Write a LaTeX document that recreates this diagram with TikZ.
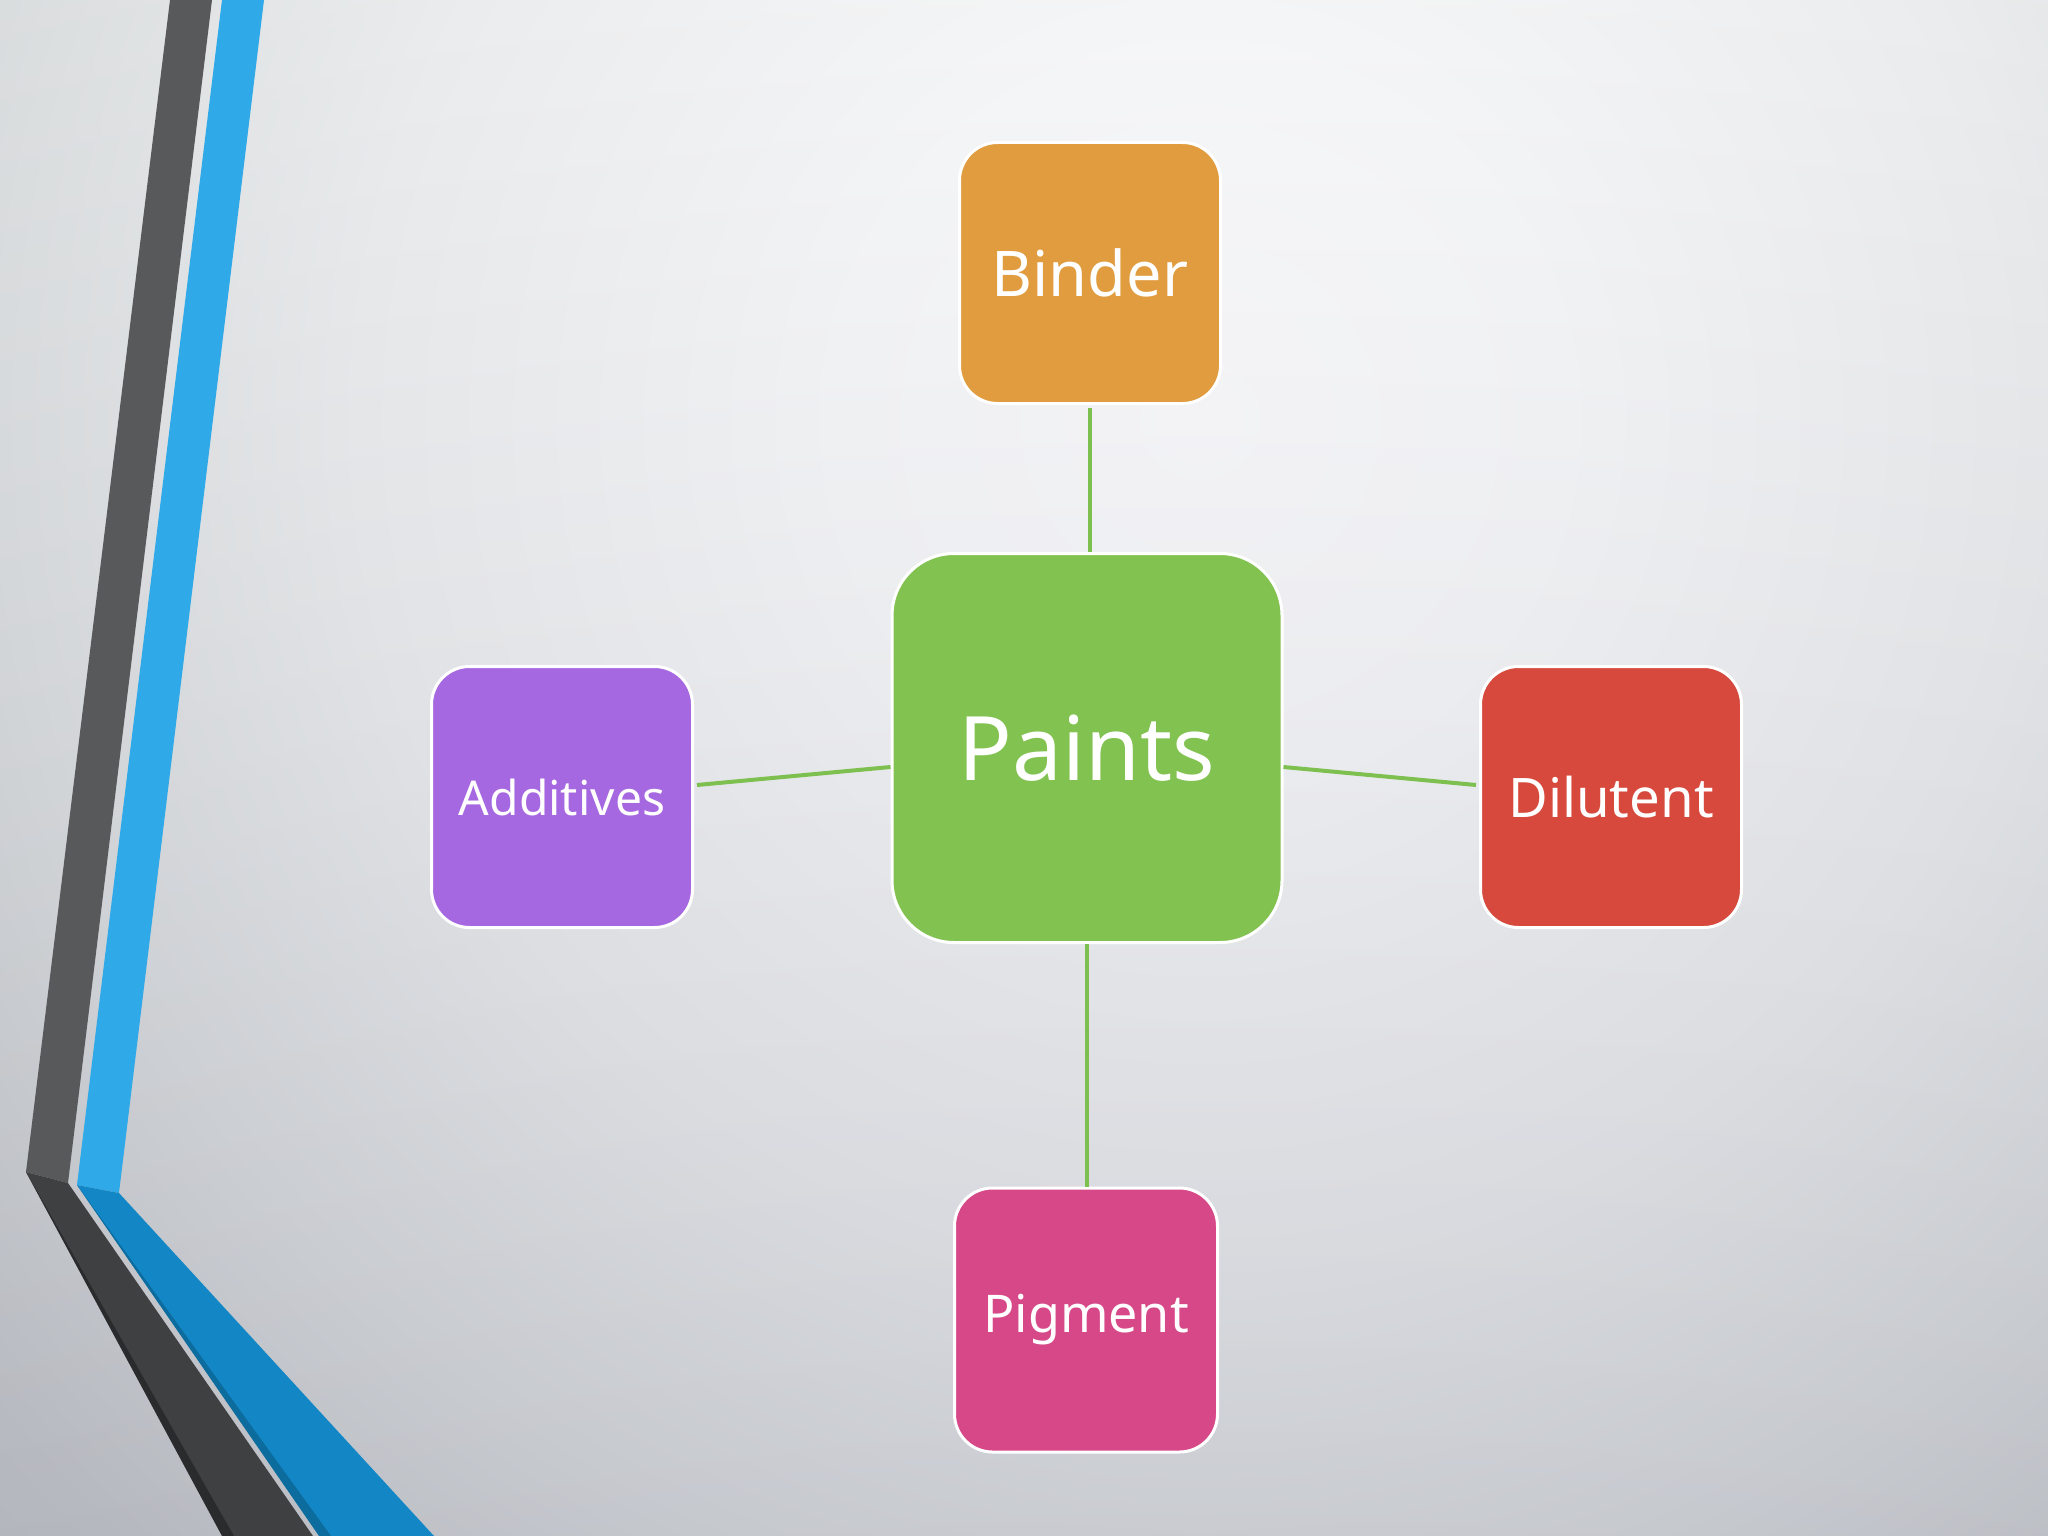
\documentclass[tikz,border=0pt]{standalone}
\usepackage{fontspec}
\setmainfont{Noto Sans}
\usetikzlibrary{calc}
\definecolor{bg0}{HTML}{F9F9FB}
\definecolor{bg1}{HTML}{F5F6F7}
\definecolor{bg2}{HTML}{E9EBEC}
\definecolor{bg3}{HTML}{DADDDE}
\definecolor{bg4}{HTML}{C8CBCD}
\definecolor{bg5}{HTML}{B8BBBD}
\pgfdeclareradialshading{bgshade}{\pgfpoint{0bp}{0bp}}{color(0bp)=(bg0); color(6bp)=(bg1); color(14bp)=(bg2); color(20bp)=(bg3); color(26bp)=(bg4); color(36bp)=(bg5); color(50bp)=(bg5)}
\definecolor{stripegray}{HTML}{58595B}
\definecolor{stripedark}{HTML}{3F4042}
\definecolor{stripeblack}{HTML}{2A2B2D}
\definecolor{stripeblue}{HTML}{2FA9E8}
\definecolor{stripeblue2}{HTML}{1387C6}
\definecolor{stripeblue3}{HTML}{0D6C9E}
\definecolor{cbinder}{HTML}{E09C3E}
\definecolor{cpaints}{HTML}{82C250}
\definecolor{cadd}{HTML}{A668E0}
\definecolor{cdil}{HTML}{D6493C}
\definecolor{cpig}{HTML}{D64887}
\definecolor{clink}{HTML}{7DC04F}
\tikzset{
  box/.style={draw=white, line width=3pt, rounded corners=38pt, minimum width=261pt, minimum height=261pt, text=white, inner sep=0pt},
  link/.style={draw=clink, line width=4pt}
}
\begin{document}
\begin{tikzpicture}[x=1pt,y=-1pt]
\useasboundingbox (0,0) rectangle (2048,1536);
% background
\begin{scope}
\clip (0,0) rectangle (2048,1536);
\shade[shading=bgshade] (-300,-1080) rectangle (2700,1920);
\shade[top color=white, bottom color=black!80!blue, opacity=0.09] (0,0) rectangle (2048,1536);
\end{scope}
% decorative stripes
\fill[stripegray] (170,0) -- (212,0) -- (68,1183) -- (26,1172) -- cycle;
\fill[stripeblue] (222,0) -- (264,0) -- (119,1193) -- (77,1185) -- cycle;
\fill[stripedark] (26,1172) -- (68,1183) -- (313,1536) -- (225,1536) -- cycle;
\fill[stripeblack] (26,1172) -- (234,1536) -- (222,1536) -- cycle;
\fill[stripeblue2] (77,1185) -- (119,1193) -- (434,1536) -- (320,1536) -- cycle;
\fill[stripeblue3] (77,1185) -- (331,1536) -- (319,1536) -- cycle;
% nodes
\node[box, fill=cpaints, minimum width=390pt, minimum height=389pt, rounded corners=62pt] (paints) at (1087,748) {\fontsize{89}{96}\selectfont Paints};
\node[box, fill=cbinder] (binder) at (1090,273) {\fontsize{63}{68}\selectfont Binder};
\node[box, fill=cadd] (add) at (562,797) {\fontsize{48}{52}\selectfont Additives};
\node[box, fill=cdil] (dil) at (1611,797) {\fontsize{54.5}{58}\selectfont Dilutent};
\node[box, fill=cpig, minimum width=263pt, minimum height=264pt] (pig) at (1086,1320) {\fontsize{52}{56}\selectfont Pigment};
% connectors
\draw[link] ($(binder.south)+(0,3)$) -- (binder.south |- paints.north);
\draw[link] (paints.south) -- (paints.south |- pig.north);
\draw[link] ($(add.east)+(3,-12)$) -- ($(paints.west)+(0,19)$);
\draw[link] ($(paints.east)+(0,19)$) -- ($(dil.west)+(-3,-12)$);
\end{tikzpicture}
\end{document}
